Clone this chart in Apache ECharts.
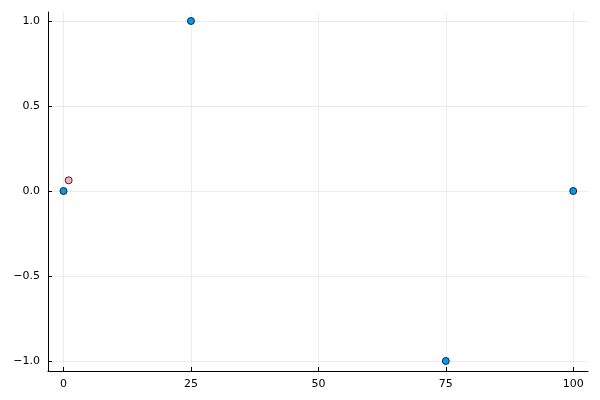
<!DOCTYPE html>
<html>
<head>
<meta charset="utf-8">
<script src="https://cdn.jsdelivr.net/npm/echarts@6/dist/echarts.min.js"></script>
<style>html,body{margin:0;padding:0;background:#fff}#c{width:600px;height:400px}</style>
</head>
<body>
<div id="c"></div>
<script>
const xTicks = [0, 25, 50, 75, 100];
const yTicks = [-1, -0.5, 0, 0.5, 1];
const seriesA = [[0, 0], [25, 1], [75, -1], [100, 0]];
const seriesB = [[1, 0.0628]];

const fmtY = v => v.toFixed(1).replace('-', '\u2212');
const gridColor = 'rgba(0,0,0,0.07)';
const font = 'DejaVu Sans';

const chart = echarts.init(document.getElementById('c'), null, {renderer: 'canvas'});
chart.setOption({
  animation: false,
  backgroundColor: '#fff',
  grid: {left: 48, right: 12, top: 12, bottom: 29, containLabel: false},
  xAxis: {
    type: 'value', min: -3.05, max: 102.9,
    axisLine: {show: true, onZero: false, lineStyle: {color: '#000', width: 1}},
    axisTick: {show: true, inside: true, length: 4, customValues: xTicks, lineStyle: {color: '#000'}},
    axisLabel: {customValues: xTicks, color: '#000', fontFamily: font, fontSize: 11, margin: 8, formatter: v => String(v)},
    splitLine: {show: true, customValues: xTicks, lineStyle: {color: gridColor, width: 1}}
  },
  yAxis: {
    type: 'value', min: -1.059, max: 1.053,
    axisLine: {show: true, onZero: false, lineStyle: {color: '#000', width: 1}},
    axisTick: {show: true, inside: true, length: 4, customValues: yTicks, lineStyle: {color: '#000'}},
    axisLabel: {customValues: yTicks, color: '#000', fontFamily: font, fontSize: 11, margin: 8, formatter: fmtY},
    splitLine: {show: true, customValues: yTicks, lineStyle: {color: gridColor, width: 1}}
  },
  series: [
    {type: 'scatter', data: seriesA, symbolSize: 7,
     itemStyle: {color: '#009af9', borderColor: '#000', borderWidth: 0.8, opacity: 1}},
    {type: 'scatter', data: seriesB, symbolSize: 7,
     itemStyle: {color: '#f9b4c0', borderColor: '#000', borderWidth: 0.8, opacity: 1}}
  ]
});
</script>
</body>
</html>
